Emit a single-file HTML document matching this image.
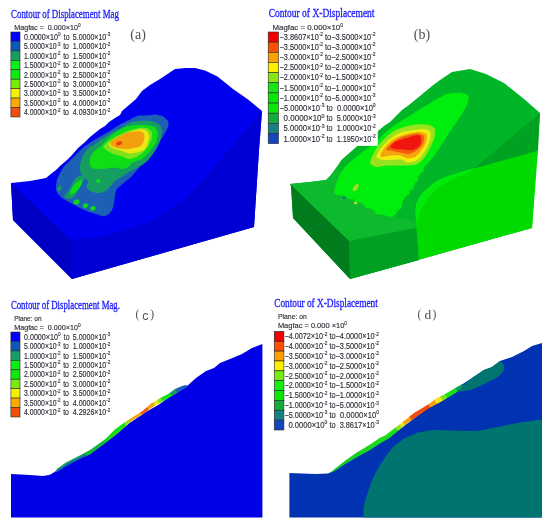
<!DOCTYPE html>
<html><head><meta charset="utf-8"><title>Contour plots</title>
<style>html,body{margin:0;padding:0;background:#fff;}svg{display:block;}</style>
</head><body>
<svg width="550" height="527" viewBox="0 0 550 527">
<rect width="550" height="527" fill="#fff"/>
<defs><filter id="soft" x="-2%" y="-2%" width="104%" height="104%"><feGaussianBlur stdDeviation="0.35"/></filter></defs>
<g filter="url(#soft)">
<path d="M11,183 L30,181 L46,178 L52,173 L56,170 L60,166 L67,160 L72,155 L78,148 L84,143 L90,137 L95,133 L100,129 L105,126 L109,122 L115,118 L120,115 L122,111 L129,105 L136,99 L142,91 L150,85 L160,79 L166,75 L175,69 L185,68 L195,68 L205,70.5 L217.5,76.6 L233,89 L248.4,99.8 L262,111 L259,150 L254,227 L72,279 L13,220 Z" fill="rgb(4,6,240)"/>
<path d="M71,240 L100,236 L120,232 L150,222 L184,200 L210,172 L235,142 L262,111 L259,150 L254,227 L72,279 Z" fill="rgb(0,0,212)"/>
<path d="M11,183 L71,240 L72,279 L13,220 Z" fill="rgb(0,0,196)"/>
<path d="M128,120.5 C130.4,119.3 135.2,116.4 137.7,115.7 C140.2,115 144.6,115.7 147,115.5 C149.4,115.3 153.5,114.3 155.6,114.4 C157.7,114.5 160.9,115.5 162.5,116.3 C164.1,117.1 166.8,119.3 167.6,120.5 C168.4,121.7 168.5,123.7 168.4,125 C168.3,126.3 167.4,128.6 166.7,130 C166,131.4 164.3,134.1 163.3,135.7 C162.3,137.3 160,140.1 159,141.7 C158,143.3 156.8,146 155.6,147.5 C154.4,149 151.4,151.5 150,153 C148.6,154.5 146.3,157.3 145,159 C143.7,160.7 142.3,163.5 140.5,165.8 C138.7,168.1 133.8,174 131.4,176.4 C129,178.8 124.3,182.2 122.3,184 C120.3,185.8 117.2,188.2 116.2,190 C115.2,191.8 115.1,195.5 114.7,197.7 C114.3,199.9 113.8,204.8 113.2,206.8 C112.6,208.8 111.4,211.5 110.2,212.8 C109,214.1 105.9,216.1 104,216.3 C102.1,216.5 98.1,214.6 96,214 C93.9,213.4 90.1,212.3 88,211.5 C85.9,210.7 82.3,209.1 80,208 C77.7,206.9 73.4,204.3 71,203 C68.6,201.7 63.9,199.6 62,198 C60.1,196.4 57.2,193.4 56.5,191 C55.8,188.6 56,183.2 57,180 C58,176.8 61.6,169.9 63.7,167 C65.8,164.1 70.1,160.7 72.8,158 C75.5,155.3 80.9,149.5 84,147 C87.1,144.5 92.7,141.1 96,139 C99.3,136.9 105.8,133.4 109,131.5 C112.2,129.6 117.5,126 120,124.5 C122.5,123 125.6,121.7 128,120.5 Z" fill="rgb(30,96,182)"/>
<path d="M64,196.8 C63.7,195.7 67.7,192.7 69,190.5 C70.3,188.3 72.7,182.2 74,180.3 C75.3,178.4 77.6,176.4 79,176 C80.4,175.6 84.1,175.9 84.5,177 C84.9,178.1 83.1,181.9 82,184 C80.9,186.1 78,191.1 76.6,193 C75.2,194.9 73.2,198 71.5,198.5 C69.8,199 64.3,197.9 64,196.8 Z" fill="rgb(24,158,96)"/>
<path d="M121,128 C123.7,126.6 128.3,123 132,122 C135.7,121 145.6,120.5 149,120.7 C152.4,120.9 155.9,122.4 157.6,123.5 C159.3,124.6 161.4,127.3 161.9,129.2 C162.4,131.1 162,135.1 161.2,137.7 C160.4,140.3 158,146 156.2,149 C154.4,152 150.2,158 147.7,160.5 C145.2,163 140.2,166.1 137.7,167.6 C135.2,169.1 131,170.8 129,172 C127,173.2 124.2,175.4 122.5,176.5 C120.8,177.6 117.5,179.1 116,180.3 C114.5,181.5 112.3,184 111,185.4 C109.7,186.8 107.5,189.5 106,190.5 C104.5,191.5 101.4,192.8 99.5,193 C97.6,193.2 93.7,192.4 92,191.7 C90.3,191 87.3,189.4 86.8,188 C86.3,186.6 88.3,182.9 88,181.5 C87.7,180.1 85.3,178.9 84.3,177.7 C83.3,176.5 81.1,174.3 80.5,172.6 C79.9,170.9 79.7,167.2 80,165 C80.3,162.8 81.9,158.1 83,156 C84.1,153.9 86.4,150.6 88,149 C89.6,147.4 92.9,145.5 95,144 C97.1,142.5 101.2,139.5 103.5,138 C105.8,136.5 109.7,133.8 112,132.5 C114.3,131.2 118.3,129.4 121,128 Z" fill="rgb(24,158,96)"/>
<ellipse cx="59.5" cy="188.5" rx="3" ry="1.7" transform="rotate(-55 59.5 188.5)" fill="rgb(24,158,96)"/>
<ellipse cx="76.6" cy="201.9" rx="3.6" ry="2.8" transform="rotate(-20 76.6 201.9)" fill="rgb(24,158,96)"/>
<ellipse cx="85.5" cy="205.7" rx="3.2" ry="2.5" transform="rotate(-20 85.5 205.7)" fill="rgb(24,158,96)"/>
<ellipse cx="93" cy="208.3" rx="3.2" ry="2.5" transform="rotate(-15 93 208.3)" fill="rgb(24,158,96)"/>
<ellipse cx="98.3" cy="181" rx="3" ry="2.8" transform="rotate(0 98.3 181)" fill="rgb(24,158,96)"/>
<path d="M116.3,132 C119,130.4 124.3,127.2 127.7,126.3 C131.1,125.4 138.6,125 142,125 C145.4,125 151.2,125.4 153.3,126.3 C155.4,127.2 157.2,129.9 157.6,132 C158,134.1 157.1,139.5 156.2,142 C155.3,144.5 152.4,148.2 150.5,150.5 C148.6,152.8 144.4,157.4 142,159 C139.6,160.6 134.1,161.6 132.2,162.7 C130.3,163.8 129.4,166.1 128,166.9 C126.6,167.7 123.6,168.9 121.8,169 C120,169.1 116.5,167.5 114.4,167.4 C112.3,167.3 108.5,168.3 106,168.5 C103.5,168.7 97.8,169.3 95.7,169 C93.6,168.7 91.1,167.4 90.4,165.9 C89.7,164.4 89.8,159.4 90.4,157.5 C91,155.6 93.2,152.8 94.6,151.3 C96,149.8 99.1,148 100.9,146.3 C102.7,144.6 105.7,140.4 107.8,138.5 C109.9,136.6 113.6,133.6 116.3,132 Z" fill="rgb(16,222,24)"/>
<ellipse cx="76" cy="187.3" rx="9" ry="2.9" transform="rotate(-51 76 187.3)" fill="rgb(16,222,24)"/>
<ellipse cx="98.3" cy="181" rx="2.2" ry="1.9" transform="rotate(0 98.3 181)" fill="rgb(16,222,24)"/>
<ellipse cx="76.6" cy="201.9" rx="2.6" ry="2" transform="rotate(-20 76.6 201.9)" fill="rgb(16,222,24)"/>
<ellipse cx="85.5" cy="205.7" rx="2.2" ry="1.8" transform="rotate(-20 85.5 205.7)" fill="rgb(16,222,24)"/>
<ellipse cx="93" cy="208.3" rx="2.2" ry="1.8" transform="rotate(-15 93 208.3)" fill="rgb(16,222,24)"/>
<path d="M107.8,142 C109.5,140.7 113.3,137.9 116.3,136.3 C119.3,134.7 127.2,131 130.6,129.9 C134,128.8 139.5,127.9 142,127.8 C144.5,127.7 147.7,128.4 149,129.2 C150.3,130 151.8,131.8 152,133.5 C152.2,135.2 151.5,139.7 150.5,142 C149.5,144.3 146.5,148.6 144.8,150.5 C143.1,152.4 139.8,155.1 137.7,156.2 C135.6,157.3 131.3,159 129.2,159 C127.1,159 124.3,156.9 122,156.2 C119.7,155.5 114.3,154.4 112,153.4 C109.7,152.4 106.1,149.9 105,149 C103.9,148.1 103.1,147.2 103.5,146.3 C103.9,145.4 106.1,143.3 107.8,142 Z" fill="rgb(128,226,30)"/>
<path d="M109.2,143.4 C110,142.1 114.8,139.3 117.8,137.7 C120.8,136.1 129,132.4 132,131.3 C135,130.2 138.6,129.3 140.5,129.2 C142.4,129.1 145.1,129.7 146.2,130.6 C147.3,131.5 149,134 149,136.3 C149,138.6 147.5,145.6 146.2,147.7 C144.9,149.8 141.3,151.2 139,152 C136.7,152.8 131.7,153.6 129.2,153.4 C126.7,153.2 122.9,151.3 120.6,150.5 C118.3,149.7 113.5,148.6 112,147.7 C110.5,146.8 108.4,144.7 109.2,143.4 Z" fill="rgb(236,232,20)"/>
<path d="M110.6,142 C111.3,140.9 114.4,138.8 116.3,137.7 C118.2,136.6 122.8,134.3 124.9,133.5 C127,132.7 129.9,132.3 132,132 C134.1,131.7 138.9,131.1 140.5,131.3 C142.1,131.5 143.5,132.3 144,133.5 C144.5,134.7 144.5,138.9 144,140.6 C143.5,142.3 141.7,145.4 140.5,146.3 C139.3,147.2 136.3,147.3 134.8,147.7 C133.3,148.1 130.7,148.8 129.2,149 C127.7,149.2 125.2,149.2 123.5,149 C121.8,148.8 117.9,148.2 116.3,147.7 C114.7,147.2 112.2,146.4 111.4,145.6 C110.6,144.8 109.9,143.1 110.6,142 Z" fill="rgb(242,160,16)"/>
<ellipse cx="119.2" cy="143.4" rx="3.2" ry="1.9" transform="rotate(-20 119.2 143.4)" fill="rgb(240,64,16)"/>
<path d="M290,184 L310,182 L326,180 L331,175 L336.8,167 L341.4,160 L350.5,152 L357.3,145.9 L364,140 L372,135 L378,131 L384,126 L390,122 L395,117 L402,110 L409,105 L415,100 L420,96 L426,91 L432,86 L440,80 L452,72 L470,69 L486,74 L504,83 L524,99 L540,113 L537,150 L532,228 L350,279 L293,218 L291,186 Z" fill="rgb(4,182,38)"/>
<path d="M290,184 L310,182 L326,180 L331,175 L336.8,167 L380,214 L419,222 L419,260 L350,279 L349,241 Z" fill="rgb(10,186,46)"/>
<path d="M349,241 L384.5,234 L416.5,228 L419,260 L350,279 Z" fill="rgb(2,160,34)"/>
<path d="M290,184 L349,241 L350,279 L293,218 L291,186 Z" fill="rgb(2,124,26)"/>
<path d="M418.7,259.7 C418.6,257.7 418.3,249.1 418,245 C417.7,240.9 416.8,233 416.5,229 C416.2,225 415.6,218.2 415.5,215 C415.4,211.8 415.5,207.3 416,205 C416.5,202.7 418.2,199.5 419,198 C419.8,196.5 420.5,195.1 422,193.5 C423.5,191.9 427.9,187.7 430,186 C432.1,184.3 436.2,181.6 438,180.5 C439.8,179.4 441,178.7 443.6,177.7 C446.2,176.7 453.7,174.3 457.8,173 C461.9,171.7 472.2,168.9 474.4,168.3 L538,150.5 L532,228 Z" fill="rgb(0,218,0)"/>
<path d="M415.5,215 C415.4,213.1 415.6,206.7 416,205 C416.4,203.3 418.4,199.2 419,198 C419.6,196.8 420.9,194.7 422,193.5 C423.1,192.3 428.4,187.3 430,186 C431.6,184.7 436.6,181.3 438,180.5 C439.4,179.7 441.6,178.4 443.6,177.7 C445.6,176.9 454.7,173.9 457.8,173 C460.9,172.1 473.4,168.4 474.4,168.3 C475.4,168.2 469.9,171.5 468,172.5 C466.1,173.5 457.6,176.8 455,178 C452.4,179.2 444.3,183.5 442,185 C439.7,186.5 433.7,191.3 432,193 C430.3,194.7 426.2,200.1 425,202 C423.8,203.9 420.8,209.8 420,212 C419.2,214.2 417.9,223.7 417.5,224 C417.1,224.3 415.6,216.9 415.5,215 Z" fill="rgb(6,236,14)" opacity="0.9"/>
<path d="M474.4,168.3 L540,113 L538,150.5 Z" fill="rgb(2,162,32)"/>
<path d="M334,192 L336,184 L340,174 L344,168 L350,162 L356,157 L362,152 L368,148 L374,143 L379,139 L386,132 L393.5,126 L400,121.5 L407.7,117 L413,113.5 L419,110 L424,106.5 L429,104 L435,100 L440,97.5 L446,94 L453,93 L460,92.5 L466,94 L469,97 L468,102 L466,107 L463,112 L458,120 L451,130 L445,139 L440,147 L434,156 L428,163 L424,167 L423.4,171.3 L420,174 L418.1,176.8 L418.4,180.7 L415.1,182.8 L414,186 L413.2,189.5 L409.6,190.7 L409.2,194.5 L406,196 L403.6,199.8 L402,204 L401.4,208.2 L397.6,210.4 L396,214 L392.5,216.8 L388,216.5 L384.1,215 L380,214.5 L375.8,213.9 L373.6,210.1 L370,208.5 L365.8,207.9 L363.6,204.1 L360,202.5 L355.9,202.5 L353.2,199.1 L348.9,199.5 L346,196.5 L342.1,194.9 L337.6,195.7 L334,193 Z" fill="rgb(4,238,12)"/>
<path d="M370.7,159.8 C371.5,157.7 374.7,151.1 376.4,148.4 C378.1,145.7 381.2,142.1 383.5,139.8 C385.8,137.5 390.5,133.1 393.5,131.3 C396.5,129.5 402.9,127.2 406.3,126.3 C409.7,125.4 416,124.4 419,124.2 C422,124 426.9,124.3 429,124.9 C431.1,125.5 433.9,126.9 434.7,128.5 C435.5,130.1 435.3,134.5 434.7,137 C434.1,139.5 431.8,144.3 430.5,147 C429.2,149.7 426.5,154.7 424.8,157 C423.1,159.3 420,162.9 417.7,164 C415.4,165.1 410.2,165.3 407.7,165.5 C405.2,165.7 401.7,165.5 399,165.5 C396.3,165.5 390.8,165.3 387.8,165.5 C384.8,165.7 378.7,167.1 376.4,166.9 C374.1,166.7 371.5,164.9 370.7,164 C369.9,163.1 369.9,161.9 370.7,159.8 Z" fill="rgb(150,226,30)"/>
<path d="M376.4,157 C376.2,155.3 380.1,149.5 382,147 C383.9,144.5 387.9,140.4 390.6,138.4 C393.3,136.4 398.8,133.1 402,132 C405.2,130.9 411.6,130.3 414.8,129.9 C418,129.5 424.1,128.8 426.2,129.2 C428.3,129.6 430,131.1 430.5,132.7 C431,134.3 430.5,138.8 429.7,141.3 C428.9,143.8 426.4,148.7 424.8,151.2 C423.2,153.7 420,158.3 417.7,159.8 C415.4,161.3 409.8,162.6 407.7,162.6 C405.6,162.6 403.9,160.2 402,159.8 C400.1,159.4 396,159.8 393.5,159.8 C391,159.8 385.8,160.2 383.5,159.8 C381.2,159.4 376.6,158.7 376.4,157 Z" fill="rgb(240,236,16)"/>
<path d="M380.7,154 C381.3,152.5 384.4,147.6 386.3,145.5 C388.2,143.4 392.2,139.9 394.9,138.4 C397.6,136.9 403.1,135.1 406.3,134.2 C409.5,133.3 416.3,132 419,132 C421.7,132 425.2,133 426.2,134.2 C427.2,135.4 426.8,139.2 426.2,141.3 C425.6,143.4 423.4,147.7 421.9,149.8 C420.4,151.9 416.9,155.9 414.8,157 C412.7,158.1 408.2,158.5 406.3,158.3 C404.4,158.1 402.7,155.9 400.6,155.5 C398.5,155.1 393.1,155.3 390.6,155.5 C388.1,155.7 383.3,157.2 382,157 C380.7,156.8 380.1,155.5 380.7,154 Z" fill="rgb(246,164,8)"/>
<path d="M386.3,149.8 C386.1,148.7 389.9,144.4 392,142.7 C394.1,141 398.8,138.2 402,137 C405.2,135.8 413.4,133.6 416.2,133.4 C419,133.2 422.4,134.4 423.3,135.6 C424.2,136.8 424,140.8 423.3,142.7 C422.6,144.6 419.6,148.3 417.7,149.8 C415.8,151.3 411.1,153.6 409,154 C406.9,154.4 404.1,153.1 402,152.7 C399.9,152.3 395.6,151.6 393.5,151.2 C391.4,150.8 386.5,150.9 386.3,149.8 Z" fill="rgb(242,90,14)"/>
<path d="M390.6,147 C390.6,146 394,142.5 396.3,141.3 C398.6,140.1 404.8,138.6 407.7,137.7 C410.6,136.8 415.9,134.8 417.7,134.9 C419.5,135 420.9,137 421.2,138.4 C421.5,139.8 420.8,144 419.8,145.5 C418.8,147 415.4,149.2 413.4,149.8 C411.4,150.4 407.1,149.9 404.8,149.8 C402.5,149.7 398.2,149.5 396.3,149.1 C394.4,148.7 390.6,148 390.6,147 Z" fill="rgb(240,20,16)"/>
<ellipse cx="355.7" cy="187.6" rx="4.2" ry="2" transform="rotate(-55 355.7 187.6)" fill="rgb(170,220,30)"/>
<ellipse cx="355.6" cy="203" rx="1.6" ry="1.2" fill="rgb(200,220,30)"/>
<circle cx="344" cy="198" r="1" fill="rgb(20,60,200)"/>
<rect x="262" y="0" width="115.8" height="145.9" fill="#fff"/>
<path d="M11,474 L30,475 L43,476 L50,474.7 L54.5,472 L58,469.5 L66,464.5 L76,458.5 L90,452.5 L106,442 L114.8,435.5 L129.5,423 L146,412 L159,404.5 L170.5,396.3 L178.7,391.4 L186,387 L196,378 L206,371 L214,368 L220,363 L230,359 L242,354 L252,348 L262.4,344 L262.4,517.6 L11,517.6 Z" fill="rgb(2,0,230)"/>
<linearGradient id="gc" gradientUnits="userSpaceOnUse" x1="56" y1="471" x2="188" y2="385"><stop offset="0.0000" stop-color="rgb(30,96,182)"/><stop offset="0.2121" stop-color="rgb(30,96,182)"/><stop offset="0.2121" stop-color="rgb(24,176,64)"/><stop offset="0.3333" stop-color="rgb(24,186,56)"/><stop offset="0.4091" stop-color="rgb(20,222,24)"/><stop offset="0.5303" stop-color="rgb(20,224,24)"/><stop offset="0.5303" stop-color="rgb(150,226,30)"/><stop offset="0.5606" stop-color="rgb(150,226,30)"/><stop offset="0.5606" stop-color="rgb(244,164,12)"/><stop offset="0.6515" stop-color="rgb(244,164,12)"/><stop offset="0.6515" stop-color="rgb(242,84,14)"/><stop offset="0.7045" stop-color="rgb(242,84,14)"/><stop offset="0.7045" stop-color="rgb(244,164,12)"/><stop offset="0.7530" stop-color="rgb(244,164,12)"/><stop offset="0.7530" stop-color="rgb(236,232,20)"/><stop offset="0.7856" stop-color="rgb(236,232,20)"/><stop offset="0.7856" stop-color="rgb(128,226,30)"/><stop offset="0.8106" stop-color="rgb(128,226,30)"/><stop offset="0.8106" stop-color="rgb(20,224,24)"/><stop offset="0.8765" stop-color="rgb(20,224,24)"/><stop offset="0.8765" stop-color="rgb(24,158,96)"/><stop offset="0.9167" stop-color="rgb(24,158,96)"/><stop offset="0.9167" stop-color="rgb(30,96,182)"/><stop offset="1.0000" stop-color="rgb(30,96,182)"/></linearGradient>
<path d="M56,470.5 L58,468.5 L66,462.5 L80,455.5 L90,450 L106,438.5 L115,429.2 L125.9,421.5 L132.5,417.2 L142.3,411.2 L151,403.5 L155.4,400.9 L162,397 L168.5,393.8 L175,389 L182,386 L186.5,384.8 L187,386.5 L185.2,388 L175,394.3 L166.3,399.2 L158.6,404 L153.2,406.8 L142.3,414.5 L131.4,421 L121.5,430 L114.8,435.5 L106,442.5 L90,454.5 L76,461 L66,466.5 L56,472.5 Z" fill="url(#gc)"/>
<path d="M57,469.6 L66,463.4 L80,456.4 L90,451" fill="none" stroke="rgb(24,180,64)" stroke-width="1.2"/>
<path d="M289.4,473 L316,474 L328,473.6 L334,470.5 L346,461.5 L356,455 L370,448 L390,436 L400,429 L412,420 L432,404 L440,398.5 L452,391 L462,384.5 L472,378 L484,370 L492,367 L500,361 L512,357 L524,351 L532,346 L542,343 L542,517.4 L289.4,517.4 Z" fill="rgb(0,50,178)"/>
<path d="M363,517.4 L364,505 L367,495 L371,483 L375,474 L380,465 L386,456 L393,447 L404,438.5 L418,432.5 L432,430 L450,430.5 L470,431 L480,430.5 L500,426.5 L520,422.5 L542,419.5 L542,517.4 Z" fill="rgb(0,116,112)"/>
<path d="M456,391.5 C456.4,390.8 462.4,385.9 464,384.5 C465.6,383.1 470,379.4 472,378 C474,376.6 482,371.1 484,370 C486,368.9 490.4,367.9 492,367 C493.6,366.1 498.8,361.3 500,361.2 C501.2,361.1 503.7,364.9 504,366 C504.3,367.1 503.8,370.8 503,372 C502.2,373.2 498.3,376.6 496,378 C493.7,379.4 482.6,384.8 480,386 C477.4,387.2 472,389.4 470,390 C468,390.6 461.4,391.4 460,391.5 C458.6,391.6 455.6,392.2 456,391.5 Z" fill="rgb(0,116,112)"/>
<linearGradient id="gd" gradientUnits="userSpaceOnUse" x1="330" y1="473" x2="464" y2="384"><stop offset="0.0000" stop-color="rgb(24,196,44)"/><stop offset="0.4970" stop-color="rgb(30,226,24)"/><stop offset="0.4970" stop-color="rgb(150,226,30)"/><stop offset="0.5299" stop-color="rgb(150,226,30)"/><stop offset="0.5299" stop-color="rgb(236,232,20)"/><stop offset="0.5522" stop-color="rgb(236,232,20)"/><stop offset="0.5522" stop-color="rgb(246,164,8)"/><stop offset="0.6045" stop-color="rgb(246,164,8)"/><stop offset="0.6045" stop-color="rgb(242,76,14)"/><stop offset="0.7463" stop-color="rgb(242,76,14)"/><stop offset="0.7463" stop-color="rgb(246,164,8)"/><stop offset="0.7910" stop-color="rgb(246,164,8)"/><stop offset="0.7910" stop-color="rgb(236,232,20)"/><stop offset="0.8336" stop-color="rgb(236,232,20)"/><stop offset="0.8336" stop-color="rgb(128,226,30)"/><stop offset="0.8657" stop-color="rgb(128,226,30)"/><stop offset="0.8657" stop-color="rgb(20,224,24)"/><stop offset="0.9403" stop-color="rgb(20,224,24)"/><stop offset="0.9403" stop-color="rgb(24,158,96)"/><stop offset="1.0000" stop-color="rgb(24,158,96)"/></linearGradient>
<path d="M330,473 L334,469.6 L346,460 L356,453 L370,444.5 L380,437.8 L385,435.5 L399.5,424.5 L414,413 L428.6,404.2 L436,398.6 L446,393.4 L454.8,388.3 L462,384 L463,385.5 L456.3,392.4 L443.2,400.4 L428.6,408.4 L406.8,423.6 L389.4,438 L380,443.5 L370,450 L360,455.5 L346,463.5 L334,471.5 Z" fill="url(#gd)"/>
</g>
<text x="11.1" y="18.1" font-family="Liberation Serif, serif" font-size="12" fill="rgb(34,34,250)" stroke="rgb(34,34,250)" stroke-width="0.32" textLength="107.8" lengthAdjust="spacingAndGlyphs">Contour of Displacement Mag</text>
<text x="14.2" y="29.5" font-family="Liberation Sans, sans-serif" font-size="7.6" fill="rgb(45,45,55)" stroke="rgb(45,45,55)" stroke-width="0.15" textLength="66.4" lengthAdjust="spacingAndGlyphs">Magfac = &#160;0.000×10<tspan dy="-3" font-size="5">0</tspan></text>
<rect x="10.9" y="32.00" width="9.1" height="9.44" fill="rgb(0,0,255)" stroke="rgb(40,40,40)" stroke-width="0.6"/>
<text x="24" y="39.8" font-family="Liberation Sans, sans-serif" font-size="8.8" fill="rgb(45,45,55)" stroke="rgb(45,45,55)" stroke-width="0.15" textLength="36.5" lengthAdjust="spacingAndGlyphs">0.0000×10<tspan dy="-3.6" font-size="5.8">0</tspan><tspan dy="3.6">​</tspan></text>
<text x="63.8" y="39.8" font-family="Liberation Sans, sans-serif" font-size="8.8" fill="rgb(45,45,55)" stroke="rgb(45,45,55)" stroke-width="0.15" textLength="5.8" lengthAdjust="spacingAndGlyphs">to</text>
<text x="72.8" y="39.8" font-family="Liberation Sans, sans-serif" font-size="8.8" fill="rgb(45,45,55)" stroke="rgb(45,45,55)" stroke-width="0.15" textLength="37.6" lengthAdjust="spacingAndGlyphs">5.0000×10<tspan dy="-3.6" font-size="5.8">-3</tspan><tspan dy="3.6">​</tspan></text>
<rect x="10.9" y="41.44" width="9.1" height="9.44" fill="rgb(10,90,190)" stroke="rgb(40,40,40)" stroke-width="0.6"/>
<text x="24" y="49.239999999999995" font-family="Liberation Sans, sans-serif" font-size="8.8" fill="rgb(45,45,55)" stroke="rgb(45,45,55)" stroke-width="0.15" textLength="36.5" lengthAdjust="spacingAndGlyphs">5.0000×10<tspan dy="-3.6" font-size="5.8">-3</tspan><tspan dy="3.6">​</tspan></text>
<text x="63.2" y="49.239999999999995" font-family="Liberation Sans, sans-serif" font-size="8.8" fill="rgb(45,45,55)" stroke="rgb(45,45,55)" stroke-width="0.15" textLength="5.8" lengthAdjust="spacingAndGlyphs">to</text>
<text x="72.8" y="49.239999999999995" font-family="Liberation Sans, sans-serif" font-size="8.8" fill="rgb(45,45,55)" stroke="rgb(45,45,55)" stroke-width="0.15" textLength="37.6" lengthAdjust="spacingAndGlyphs">1.0000×10<tspan dy="-3.6" font-size="5.8">-2</tspan><tspan dy="3.6">​</tspan></text>
<rect x="10.9" y="50.88" width="9.1" height="9.44" fill="rgb(20,160,100)" stroke="rgb(40,40,40)" stroke-width="0.6"/>
<text x="24" y="58.67999999999999" font-family="Liberation Sans, sans-serif" font-size="8.8" fill="rgb(45,45,55)" stroke="rgb(45,45,55)" stroke-width="0.15" textLength="36.5" lengthAdjust="spacingAndGlyphs">1.0000×10<tspan dy="-3.6" font-size="5.8">-2</tspan><tspan dy="3.6">​</tspan></text>
<text x="63.2" y="58.67999999999999" font-family="Liberation Sans, sans-serif" font-size="8.8" fill="rgb(45,45,55)" stroke="rgb(45,45,55)" stroke-width="0.15" textLength="5.8" lengthAdjust="spacingAndGlyphs">to</text>
<text x="72.8" y="58.67999999999999" font-family="Liberation Sans, sans-serif" font-size="8.8" fill="rgb(45,45,55)" stroke="rgb(45,45,55)" stroke-width="0.15" textLength="37.6" lengthAdjust="spacingAndGlyphs">1.5000×10<tspan dy="-3.6" font-size="5.8">-2</tspan><tspan dy="3.6">​</tspan></text>
<rect x="10.9" y="60.32" width="9.1" height="9.44" fill="rgb(10,240,20)" stroke="rgb(40,40,40)" stroke-width="0.6"/>
<text x="24" y="68.12" font-family="Liberation Sans, sans-serif" font-size="8.8" fill="rgb(45,45,55)" stroke="rgb(45,45,55)" stroke-width="0.15" textLength="36.5" lengthAdjust="spacingAndGlyphs">1.5000×10<tspan dy="-3.6" font-size="5.8">-2</tspan><tspan dy="3.6">​</tspan></text>
<text x="63.2" y="68.12" font-family="Liberation Sans, sans-serif" font-size="8.8" fill="rgb(45,45,55)" stroke="rgb(45,45,55)" stroke-width="0.15" textLength="5.8" lengthAdjust="spacingAndGlyphs">to</text>
<text x="72.8" y="68.12" font-family="Liberation Sans, sans-serif" font-size="8.8" fill="rgb(45,45,55)" stroke="rgb(45,45,55)" stroke-width="0.15" textLength="37.6" lengthAdjust="spacingAndGlyphs">2.0000×10<tspan dy="-3.6" font-size="5.8">-2</tspan><tspan dy="3.6">​</tspan></text>
<rect x="10.9" y="69.76" width="9.1" height="9.44" fill="rgb(10,236,10)" stroke="rgb(40,40,40)" stroke-width="0.6"/>
<text x="24" y="77.56" font-family="Liberation Sans, sans-serif" font-size="8.8" fill="rgb(45,45,55)" stroke="rgb(45,45,55)" stroke-width="0.15" textLength="36.5" lengthAdjust="spacingAndGlyphs">2.0000×10<tspan dy="-3.6" font-size="5.8">-2</tspan><tspan dy="3.6">​</tspan></text>
<text x="63.2" y="77.56" font-family="Liberation Sans, sans-serif" font-size="8.8" fill="rgb(45,45,55)" stroke="rgb(45,45,55)" stroke-width="0.15" textLength="5.8" lengthAdjust="spacingAndGlyphs">to</text>
<text x="72.8" y="77.56" font-family="Liberation Sans, sans-serif" font-size="8.8" fill="rgb(45,45,55)" stroke="rgb(45,45,55)" stroke-width="0.15" textLength="37.6" lengthAdjust="spacingAndGlyphs">2.5000×10<tspan dy="-3.6" font-size="5.8">-2</tspan><tspan dy="3.6">​</tspan></text>
<rect x="10.9" y="79.20" width="9.1" height="9.44" fill="rgb(120,236,10)" stroke="rgb(40,40,40)" stroke-width="0.6"/>
<text x="24" y="87.0" font-family="Liberation Sans, sans-serif" font-size="8.8" fill="rgb(45,45,55)" stroke="rgb(45,45,55)" stroke-width="0.15" textLength="36.5" lengthAdjust="spacingAndGlyphs">2.5000×10<tspan dy="-3.6" font-size="5.8">-2</tspan><tspan dy="3.6">​</tspan></text>
<text x="63.2" y="87.0" font-family="Liberation Sans, sans-serif" font-size="8.8" fill="rgb(45,45,55)" stroke="rgb(45,45,55)" stroke-width="0.15" textLength="5.8" lengthAdjust="spacingAndGlyphs">to</text>
<text x="72.8" y="87.0" font-family="Liberation Sans, sans-serif" font-size="8.8" fill="rgb(45,45,55)" stroke="rgb(45,45,55)" stroke-width="0.15" textLength="37.6" lengthAdjust="spacingAndGlyphs">3.0000×10<tspan dy="-3.6" font-size="5.8">-2</tspan><tspan dy="3.6">​</tspan></text>
<rect x="10.9" y="88.64" width="9.1" height="9.44" fill="rgb(246,240,0)" stroke="rgb(40,40,40)" stroke-width="0.6"/>
<text x="24" y="96.44" font-family="Liberation Sans, sans-serif" font-size="8.8" fill="rgb(45,45,55)" stroke="rgb(45,45,55)" stroke-width="0.15" textLength="36.5" lengthAdjust="spacingAndGlyphs">3.0000×10<tspan dy="-3.6" font-size="5.8">-2</tspan><tspan dy="3.6">​</tspan></text>
<text x="63.2" y="96.44" font-family="Liberation Sans, sans-serif" font-size="8.8" fill="rgb(45,45,55)" stroke="rgb(45,45,55)" stroke-width="0.15" textLength="5.8" lengthAdjust="spacingAndGlyphs">to</text>
<text x="72.8" y="96.44" font-family="Liberation Sans, sans-serif" font-size="8.8" fill="rgb(45,45,55)" stroke="rgb(45,45,55)" stroke-width="0.15" textLength="37.6" lengthAdjust="spacingAndGlyphs">3.5000×10<tspan dy="-3.6" font-size="5.8">-2</tspan><tspan dy="3.6">​</tspan></text>
<rect x="10.9" y="98.08" width="9.1" height="9.44" fill="rgb(250,170,0)" stroke="rgb(40,40,40)" stroke-width="0.6"/>
<text x="24" y="105.88" font-family="Liberation Sans, sans-serif" font-size="8.8" fill="rgb(45,45,55)" stroke="rgb(45,45,55)" stroke-width="0.15" textLength="36.5" lengthAdjust="spacingAndGlyphs">3.5000×10<tspan dy="-3.6" font-size="5.8">-2</tspan><tspan dy="3.6">​</tspan></text>
<text x="63.2" y="105.88" font-family="Liberation Sans, sans-serif" font-size="8.8" fill="rgb(45,45,55)" stroke="rgb(45,45,55)" stroke-width="0.15" textLength="5.8" lengthAdjust="spacingAndGlyphs">to</text>
<text x="72.8" y="105.88" font-family="Liberation Sans, sans-serif" font-size="8.8" fill="rgb(45,45,55)" stroke="rgb(45,45,55)" stroke-width="0.15" textLength="37.6" lengthAdjust="spacingAndGlyphs">4.0000×10<tspan dy="-3.6" font-size="5.8">-2</tspan><tspan dy="3.6">​</tspan></text>
<rect x="10.9" y="107.52" width="9.1" height="9.44" fill="rgb(240,80,10)" stroke="rgb(40,40,40)" stroke-width="0.6"/>
<text x="24" y="115.32" font-family="Liberation Sans, sans-serif" font-size="8.8" fill="rgb(45,45,55)" stroke="rgb(45,45,55)" stroke-width="0.15" textLength="36.5" lengthAdjust="spacingAndGlyphs">4.0000×10<tspan dy="-3.6" font-size="5.8">-2</tspan><tspan dy="3.6">​</tspan></text>
<text x="63.2" y="115.32" font-family="Liberation Sans, sans-serif" font-size="8.8" fill="rgb(45,45,55)" stroke="rgb(45,45,55)" stroke-width="0.15" textLength="5.8" lengthAdjust="spacingAndGlyphs">to</text>
<text x="72.8" y="115.32" font-family="Liberation Sans, sans-serif" font-size="8.8" fill="rgb(45,45,55)" stroke="rgb(45,45,55)" stroke-width="0.15" textLength="37.6" lengthAdjust="spacingAndGlyphs">4.0930×10<tspan dy="-3.6" font-size="5.8">-2</tspan><tspan dy="3.6">​</tspan></text>
<text x="10.9" y="309" font-family="Liberation Serif, serif" font-size="12" fill="rgb(34,34,250)" stroke="rgb(34,34,250)" stroke-width="0.32" textLength="109" lengthAdjust="spacingAndGlyphs">Contour of Displacement Mag.</text>
<text x="14.2" y="320.5" font-family="Liberation Sans, sans-serif" font-size="7.4" fill="rgb(45,45,55)" stroke="rgb(45,45,55)" stroke-width="0.15" textLength="27.3" lengthAdjust="spacingAndGlyphs">Plane: on</text>
<text x="14.2" y="329.7" font-family="Liberation Sans, sans-serif" font-size="7.6" fill="rgb(45,45,55)" stroke="rgb(45,45,55)" stroke-width="0.15" textLength="66.4" lengthAdjust="spacingAndGlyphs">Magfac = &#160;0.000×10<tspan dy="-3" font-size="5">0</tspan></text>
<rect x="10.9" y="332.00" width="9.1" height="9.44" fill="rgb(0,0,255)" stroke="rgb(40,40,40)" stroke-width="0.6"/>
<text x="24" y="339.7" font-family="Liberation Sans, sans-serif" font-size="8.8" fill="rgb(45,45,55)" stroke="rgb(45,45,55)" stroke-width="0.15" textLength="36.5" lengthAdjust="spacingAndGlyphs">0.0000×10<tspan dy="-3.6" font-size="5.8">0</tspan><tspan dy="3.6">​</tspan></text>
<text x="63.8" y="339.7" font-family="Liberation Sans, sans-serif" font-size="8.8" fill="rgb(45,45,55)" stroke="rgb(45,45,55)" stroke-width="0.15" textLength="5.8" lengthAdjust="spacingAndGlyphs">to</text>
<text x="72.8" y="339.7" font-family="Liberation Sans, sans-serif" font-size="8.8" fill="rgb(45,45,55)" stroke="rgb(45,45,55)" stroke-width="0.15" textLength="37.6" lengthAdjust="spacingAndGlyphs">5.0000×10<tspan dy="-3.6" font-size="5.8">-3</tspan><tspan dy="3.6">​</tspan></text>
<rect x="10.9" y="341.44" width="9.1" height="9.44" fill="rgb(10,90,190)" stroke="rgb(40,40,40)" stroke-width="0.6"/>
<text x="24" y="349.14" font-family="Liberation Sans, sans-serif" font-size="8.8" fill="rgb(45,45,55)" stroke="rgb(45,45,55)" stroke-width="0.15" textLength="36.5" lengthAdjust="spacingAndGlyphs">5.0000×10<tspan dy="-3.6" font-size="5.8">-3</tspan><tspan dy="3.6">​</tspan></text>
<text x="63.2" y="349.14" font-family="Liberation Sans, sans-serif" font-size="8.8" fill="rgb(45,45,55)" stroke="rgb(45,45,55)" stroke-width="0.15" textLength="5.8" lengthAdjust="spacingAndGlyphs">to</text>
<text x="72.8" y="349.14" font-family="Liberation Sans, sans-serif" font-size="8.8" fill="rgb(45,45,55)" stroke="rgb(45,45,55)" stroke-width="0.15" textLength="37.6" lengthAdjust="spacingAndGlyphs">1.0000×10<tspan dy="-3.6" font-size="5.8">-2</tspan><tspan dy="3.6">​</tspan></text>
<rect x="10.9" y="350.88" width="9.1" height="9.44" fill="rgb(20,160,100)" stroke="rgb(40,40,40)" stroke-width="0.6"/>
<text x="24" y="358.58" font-family="Liberation Sans, sans-serif" font-size="8.8" fill="rgb(45,45,55)" stroke="rgb(45,45,55)" stroke-width="0.15" textLength="36.5" lengthAdjust="spacingAndGlyphs">1.0000×10<tspan dy="-3.6" font-size="5.8">-2</tspan><tspan dy="3.6">​</tspan></text>
<text x="63.2" y="358.58" font-family="Liberation Sans, sans-serif" font-size="8.8" fill="rgb(45,45,55)" stroke="rgb(45,45,55)" stroke-width="0.15" textLength="5.8" lengthAdjust="spacingAndGlyphs">to</text>
<text x="72.8" y="358.58" font-family="Liberation Sans, sans-serif" font-size="8.8" fill="rgb(45,45,55)" stroke="rgb(45,45,55)" stroke-width="0.15" textLength="37.6" lengthAdjust="spacingAndGlyphs">1.5000×10<tspan dy="-3.6" font-size="5.8">-2</tspan><tspan dy="3.6">​</tspan></text>
<rect x="10.9" y="360.32" width="9.1" height="9.44" fill="rgb(10,240,20)" stroke="rgb(40,40,40)" stroke-width="0.6"/>
<text x="24" y="368.02" font-family="Liberation Sans, sans-serif" font-size="8.8" fill="rgb(45,45,55)" stroke="rgb(45,45,55)" stroke-width="0.15" textLength="36.5" lengthAdjust="spacingAndGlyphs">1.5000×10<tspan dy="-3.6" font-size="5.8">-2</tspan><tspan dy="3.6">​</tspan></text>
<text x="63.2" y="368.02" font-family="Liberation Sans, sans-serif" font-size="8.8" fill="rgb(45,45,55)" stroke="rgb(45,45,55)" stroke-width="0.15" textLength="5.8" lengthAdjust="spacingAndGlyphs">to</text>
<text x="72.8" y="368.02" font-family="Liberation Sans, sans-serif" font-size="8.8" fill="rgb(45,45,55)" stroke="rgb(45,45,55)" stroke-width="0.15" textLength="37.6" lengthAdjust="spacingAndGlyphs">2.0000×10<tspan dy="-3.6" font-size="5.8">-2</tspan><tspan dy="3.6">​</tspan></text>
<rect x="10.9" y="369.76" width="9.1" height="9.44" fill="rgb(10,236,10)" stroke="rgb(40,40,40)" stroke-width="0.6"/>
<text x="24" y="377.46" font-family="Liberation Sans, sans-serif" font-size="8.8" fill="rgb(45,45,55)" stroke="rgb(45,45,55)" stroke-width="0.15" textLength="36.5" lengthAdjust="spacingAndGlyphs">2.0000×10<tspan dy="-3.6" font-size="5.8">-2</tspan><tspan dy="3.6">​</tspan></text>
<text x="63.2" y="377.46" font-family="Liberation Sans, sans-serif" font-size="8.8" fill="rgb(45,45,55)" stroke="rgb(45,45,55)" stroke-width="0.15" textLength="5.8" lengthAdjust="spacingAndGlyphs">to</text>
<text x="72.8" y="377.46" font-family="Liberation Sans, sans-serif" font-size="8.8" fill="rgb(45,45,55)" stroke="rgb(45,45,55)" stroke-width="0.15" textLength="37.6" lengthAdjust="spacingAndGlyphs">2.5000×10<tspan dy="-3.6" font-size="5.8">-2</tspan><tspan dy="3.6">​</tspan></text>
<rect x="10.9" y="379.20" width="9.1" height="9.44" fill="rgb(120,236,10)" stroke="rgb(40,40,40)" stroke-width="0.6"/>
<text x="24" y="386.9" font-family="Liberation Sans, sans-serif" font-size="8.8" fill="rgb(45,45,55)" stroke="rgb(45,45,55)" stroke-width="0.15" textLength="36.5" lengthAdjust="spacingAndGlyphs">2.5000×10<tspan dy="-3.6" font-size="5.8">-2</tspan><tspan dy="3.6">​</tspan></text>
<text x="63.2" y="386.9" font-family="Liberation Sans, sans-serif" font-size="8.8" fill="rgb(45,45,55)" stroke="rgb(45,45,55)" stroke-width="0.15" textLength="5.8" lengthAdjust="spacingAndGlyphs">to</text>
<text x="72.8" y="386.9" font-family="Liberation Sans, sans-serif" font-size="8.8" fill="rgb(45,45,55)" stroke="rgb(45,45,55)" stroke-width="0.15" textLength="37.6" lengthAdjust="spacingAndGlyphs">3.0000×10<tspan dy="-3.6" font-size="5.8">-2</tspan><tspan dy="3.6">​</tspan></text>
<rect x="10.9" y="388.64" width="9.1" height="9.44" fill="rgb(246,240,0)" stroke="rgb(40,40,40)" stroke-width="0.6"/>
<text x="24" y="396.34" font-family="Liberation Sans, sans-serif" font-size="8.8" fill="rgb(45,45,55)" stroke="rgb(45,45,55)" stroke-width="0.15" textLength="36.5" lengthAdjust="spacingAndGlyphs">3.0000×10<tspan dy="-3.6" font-size="5.8">-2</tspan><tspan dy="3.6">​</tspan></text>
<text x="63.2" y="396.34" font-family="Liberation Sans, sans-serif" font-size="8.8" fill="rgb(45,45,55)" stroke="rgb(45,45,55)" stroke-width="0.15" textLength="5.8" lengthAdjust="spacingAndGlyphs">to</text>
<text x="72.8" y="396.34" font-family="Liberation Sans, sans-serif" font-size="8.8" fill="rgb(45,45,55)" stroke="rgb(45,45,55)" stroke-width="0.15" textLength="37.6" lengthAdjust="spacingAndGlyphs">3.5000×10<tspan dy="-3.6" font-size="5.8">-2</tspan><tspan dy="3.6">​</tspan></text>
<rect x="10.9" y="398.08" width="9.1" height="9.44" fill="rgb(250,170,0)" stroke="rgb(40,40,40)" stroke-width="0.6"/>
<text x="24" y="405.78" font-family="Liberation Sans, sans-serif" font-size="8.8" fill="rgb(45,45,55)" stroke="rgb(45,45,55)" stroke-width="0.15" textLength="36.5" lengthAdjust="spacingAndGlyphs">3.5000×10<tspan dy="-3.6" font-size="5.8">-2</tspan><tspan dy="3.6">​</tspan></text>
<text x="63.2" y="405.78" font-family="Liberation Sans, sans-serif" font-size="8.8" fill="rgb(45,45,55)" stroke="rgb(45,45,55)" stroke-width="0.15" textLength="5.8" lengthAdjust="spacingAndGlyphs">to</text>
<text x="72.8" y="405.78" font-family="Liberation Sans, sans-serif" font-size="8.8" fill="rgb(45,45,55)" stroke="rgb(45,45,55)" stroke-width="0.15" textLength="37.6" lengthAdjust="spacingAndGlyphs">4.0000×10<tspan dy="-3.6" font-size="5.8">-2</tspan><tspan dy="3.6">​</tspan></text>
<rect x="10.9" y="407.52" width="9.1" height="9.44" fill="rgb(240,80,10)" stroke="rgb(40,40,40)" stroke-width="0.6"/>
<text x="24" y="415.21999999999997" font-family="Liberation Sans, sans-serif" font-size="8.8" fill="rgb(45,45,55)" stroke="rgb(45,45,55)" stroke-width="0.15" textLength="36.5" lengthAdjust="spacingAndGlyphs">4.0000×10<tspan dy="-3.6" font-size="5.8">-2</tspan><tspan dy="3.6">​</tspan></text>
<text x="63.2" y="415.21999999999997" font-family="Liberation Sans, sans-serif" font-size="8.8" fill="rgb(45,45,55)" stroke="rgb(45,45,55)" stroke-width="0.15" textLength="5.8" lengthAdjust="spacingAndGlyphs">to</text>
<text x="72.8" y="415.21999999999997" font-family="Liberation Sans, sans-serif" font-size="8.8" fill="rgb(45,45,55)" stroke="rgb(45,45,55)" stroke-width="0.15" textLength="37.6" lengthAdjust="spacingAndGlyphs">4.2926×10<tspan dy="-3.6" font-size="5.8">-2</tspan><tspan dy="3.6">​</tspan></text>
<text x="268.7" y="17.2" font-family="Liberation Serif, serif" font-size="12" fill="rgb(34,34,250)" stroke="rgb(34,34,250)" stroke-width="0.32" textLength="105.8" lengthAdjust="spacingAndGlyphs">Contour of X-Displacement</text>
<text x="272.5" y="29.5" font-family="Liberation Sans, sans-serif" font-size="7.8" fill="rgb(45,45,55)" stroke="rgb(45,45,55)" stroke-width="0.15" textLength="70.5" lengthAdjust="spacingAndGlyphs">Magfac = 0.000×10<tspan dy="-3" font-size="5">0</tspan></text>
<rect x="268.2" y="32.00" width="10.3" height="10.15" fill="rgb(240,0,0)" stroke="rgb(40,40,40)" stroke-width="0.6"/>
<text x="279.6" y="39.6" font-family="Liberation Sans, sans-serif" font-size="8.8" fill="rgb(45,45,55)" stroke="rgb(45,45,55)" stroke-width="0.15" textLength="43.39999999999998" lengthAdjust="spacingAndGlyphs">−3.8607×10<tspan dy="-3.6" font-size="5.8">-2</tspan><tspan dy="3.6">​</tspan></text>
<text x="325" y="39.6" font-family="Liberation Sans, sans-serif" font-size="8.8" fill="rgb(45,45,55)" stroke="rgb(45,45,55)" stroke-width="0.15" textLength="50.60000000000002" lengthAdjust="spacingAndGlyphs">to−3.5000×10<tspan dy="-3.6" font-size="5.8">-2</tspan><tspan dy="3.6">​</tspan></text>
<rect x="268.2" y="42.15" width="10.3" height="10.15" fill="rgb(250,80,0)" stroke="rgb(40,40,40)" stroke-width="0.6"/>
<text x="279.6" y="49.8" font-family="Liberation Sans, sans-serif" font-size="8.8" fill="rgb(45,45,55)" stroke="rgb(45,45,55)" stroke-width="0.15" textLength="43.39999999999998" lengthAdjust="spacingAndGlyphs">−3.5000×10<tspan dy="-3.6" font-size="5.8">-2</tspan><tspan dy="3.6">​</tspan></text>
<text x="325" y="49.8" font-family="Liberation Sans, sans-serif" font-size="8.8" fill="rgb(45,45,55)" stroke="rgb(45,45,55)" stroke-width="0.15" textLength="50.60000000000002" lengthAdjust="spacingAndGlyphs">to−3.0000×10<tspan dy="-3.6" font-size="5.8">-2</tspan><tspan dy="3.6">​</tspan></text>
<rect x="268.2" y="52.30" width="10.3" height="10.15" fill="rgb(250,160,0)" stroke="rgb(40,40,40)" stroke-width="0.6"/>
<text x="279.6" y="60.0" font-family="Liberation Sans, sans-serif" font-size="8.8" fill="rgb(45,45,55)" stroke="rgb(45,45,55)" stroke-width="0.15" textLength="43.39999999999998" lengthAdjust="spacingAndGlyphs">−3.0000×10<tspan dy="-3.6" font-size="5.8">-2</tspan><tspan dy="3.6">​</tspan></text>
<text x="325" y="60.0" font-family="Liberation Sans, sans-serif" font-size="8.8" fill="rgb(45,45,55)" stroke="rgb(45,45,55)" stroke-width="0.15" textLength="50.60000000000002" lengthAdjust="spacingAndGlyphs">to−2.5000×10<tspan dy="-3.6" font-size="5.8">-2</tspan><tspan dy="3.6">​</tspan></text>
<rect x="268.2" y="62.45" width="10.3" height="10.15" fill="rgb(250,240,0)" stroke="rgb(40,40,40)" stroke-width="0.6"/>
<text x="279.6" y="70.2" font-family="Liberation Sans, sans-serif" font-size="8.8" fill="rgb(45,45,55)" stroke="rgb(45,45,55)" stroke-width="0.15" textLength="43.39999999999998" lengthAdjust="spacingAndGlyphs">−2.5000×10<tspan dy="-3.6" font-size="5.8">-2</tspan><tspan dy="3.6">​</tspan></text>
<text x="325" y="70.2" font-family="Liberation Sans, sans-serif" font-size="8.8" fill="rgb(45,45,55)" stroke="rgb(45,45,55)" stroke-width="0.15" textLength="50.60000000000002" lengthAdjust="spacingAndGlyphs">to−2.0000×10<tspan dy="-3.6" font-size="5.8">-2</tspan><tspan dy="3.6">​</tspan></text>
<rect x="268.2" y="72.60" width="10.3" height="10.15" fill="rgb(140,230,20)" stroke="rgb(40,40,40)" stroke-width="0.6"/>
<text x="279.6" y="80.4" font-family="Liberation Sans, sans-serif" font-size="8.8" fill="rgb(45,45,55)" stroke="rgb(45,45,55)" stroke-width="0.15" textLength="43.39999999999998" lengthAdjust="spacingAndGlyphs">−2.0000×10<tspan dy="-3.6" font-size="5.8">-2</tspan><tspan dy="3.6">​</tspan></text>
<text x="325" y="80.4" font-family="Liberation Sans, sans-serif" font-size="8.8" fill="rgb(45,45,55)" stroke="rgb(45,45,55)" stroke-width="0.15" textLength="50.60000000000002" lengthAdjust="spacingAndGlyphs">to−1.5000×10<tspan dy="-3.6" font-size="5.8">-2</tspan><tspan dy="3.6">​</tspan></text>
<rect x="268.2" y="82.75" width="10.3" height="10.15" fill="rgb(20,230,20)" stroke="rgb(40,40,40)" stroke-width="0.6"/>
<text x="279.6" y="90.6" font-family="Liberation Sans, sans-serif" font-size="8.8" fill="rgb(45,45,55)" stroke="rgb(45,45,55)" stroke-width="0.15" textLength="43.39999999999998" lengthAdjust="spacingAndGlyphs">−1.5000×10<tspan dy="-3.6" font-size="5.8">-2</tspan><tspan dy="3.6">​</tspan></text>
<text x="325" y="90.6" font-family="Liberation Sans, sans-serif" font-size="8.8" fill="rgb(45,45,55)" stroke="rgb(45,45,55)" stroke-width="0.15" textLength="50.60000000000002" lengthAdjust="spacingAndGlyphs">to−1.0000×10<tspan dy="-3.6" font-size="5.8">-2</tspan><tspan dy="3.6">​</tspan></text>
<rect x="268.2" y="92.90" width="10.3" height="10.15" fill="rgb(10,230,10)" stroke="rgb(40,40,40)" stroke-width="0.6"/>
<text x="279.6" y="100.8" font-family="Liberation Sans, sans-serif" font-size="8.8" fill="rgb(45,45,55)" stroke="rgb(45,45,55)" stroke-width="0.15" textLength="43.39999999999998" lengthAdjust="spacingAndGlyphs">−1.0000×10<tspan dy="-3.6" font-size="5.8">-2</tspan><tspan dy="3.6">​</tspan></text>
<text x="325" y="100.8" font-family="Liberation Sans, sans-serif" font-size="8.8" fill="rgb(45,45,55)" stroke="rgb(45,45,55)" stroke-width="0.15" textLength="50.60000000000002" lengthAdjust="spacingAndGlyphs">to−5.0000×10<tspan dy="-3.6" font-size="5.8">-3</tspan><tspan dy="3.6">​</tspan></text>
<rect x="268.2" y="103.05" width="10.3" height="10.15" fill="rgb(10,230,10)" stroke="rgb(40,40,40)" stroke-width="0.6"/>
<text x="279.6" y="111.0" font-family="Liberation Sans, sans-serif" font-size="8.8" fill="rgb(45,45,55)" stroke="rgb(45,45,55)" stroke-width="0.15" textLength="44.89999999999998" lengthAdjust="spacingAndGlyphs">−5.0000×10<tspan dy="-3.6" font-size="5.8">-3</tspan><tspan dy="3.6">​</tspan></text>
<text x="326.5" y="111.0" font-family="Liberation Sans, sans-serif" font-size="8.8" fill="rgb(45,45,55)" stroke="rgb(45,45,55)" stroke-width="0.15" textLength="49.10000000000002" lengthAdjust="spacingAndGlyphs">to&#160;&#160;0.0000×10<tspan dy="-3.6" font-size="5.8">0</tspan><tspan dy="3.6">​</tspan></text>
<rect x="268.2" y="113.20" width="10.3" height="10.15" fill="rgb(20,170,60)" stroke="rgb(40,40,40)" stroke-width="0.6"/>
<text x="283.6" y="121.19999999999999" font-family="Liberation Sans, sans-serif" font-size="8.8" fill="rgb(45,45,55)" stroke="rgb(45,45,55)" stroke-width="0.15" textLength="40.89999999999998" lengthAdjust="spacingAndGlyphs">0.0000×10<tspan dy="-3.6" font-size="5.8">0</tspan><tspan dy="3.6">​</tspan></text>
<text x="326.5" y="121.19999999999999" font-family="Liberation Sans, sans-serif" font-size="8.8" fill="rgb(45,45,55)" stroke="rgb(45,45,55)" stroke-width="0.15" textLength="49.10000000000002" lengthAdjust="spacingAndGlyphs">to&#160;&#160;5.0000×10<tspan dy="-3.6" font-size="5.8">-3</tspan><tspan dy="3.6">​</tspan></text>
<rect x="268.2" y="123.35" width="10.3" height="10.15" fill="rgb(20,130,130)" stroke="rgb(40,40,40)" stroke-width="0.6"/>
<text x="283.6" y="131.4" font-family="Liberation Sans, sans-serif" font-size="8.8" fill="rgb(45,45,55)" stroke="rgb(45,45,55)" stroke-width="0.15" textLength="40.89999999999998" lengthAdjust="spacingAndGlyphs">5.0000×10<tspan dy="-3.6" font-size="5.8">-3</tspan><tspan dy="3.6">​</tspan></text>
<text x="326.5" y="131.4" font-family="Liberation Sans, sans-serif" font-size="8.8" fill="rgb(45,45,55)" stroke="rgb(45,45,55)" stroke-width="0.15" textLength="49.10000000000002" lengthAdjust="spacingAndGlyphs">to&#160;&#160;1.0000×10<tspan dy="-3.6" font-size="5.8">-2</tspan><tspan dy="3.6">​</tspan></text>
<rect x="268.2" y="133.50" width="10.3" height="10.15" fill="rgb(20,70,190)" stroke="rgb(40,40,40)" stroke-width="0.6"/>
<text x="283.6" y="141.6" font-family="Liberation Sans, sans-serif" font-size="8.8" fill="rgb(45,45,55)" stroke="rgb(45,45,55)" stroke-width="0.15" textLength="40.89999999999998" lengthAdjust="spacingAndGlyphs">1.0000×10<tspan dy="-3.6" font-size="5.8">-2</tspan><tspan dy="3.6">​</tspan></text>
<text x="326.5" y="141.6" font-family="Liberation Sans, sans-serif" font-size="8.8" fill="rgb(45,45,55)" stroke="rgb(45,45,55)" stroke-width="0.15" textLength="49.10000000000002" lengthAdjust="spacingAndGlyphs">to&#160;&#160;1.1950×10<tspan dy="-3.6" font-size="5.8">-2</tspan><tspan dy="3.6">​</tspan></text>
<text x="274.2" y="306.8" font-family="Liberation Serif, serif" font-size="12" fill="rgb(34,34,250)" stroke="rgb(34,34,250)" stroke-width="0.32" textLength="103.6" lengthAdjust="spacingAndGlyphs">Contour of X-Displacement</text>
<text x="277.9" y="318.8" font-family="Liberation Sans, sans-serif" font-size="7.6" fill="rgb(45,45,55)" stroke="rgb(45,45,55)" stroke-width="0.15" textLength="29" lengthAdjust="spacingAndGlyphs">Plane: on</text>
<text x="277.9" y="328.2" font-family="Liberation Sans, sans-serif" font-size="7.8" fill="rgb(45,45,55)" stroke="rgb(45,45,55)" stroke-width="0.15" textLength="69.1" lengthAdjust="spacingAndGlyphs">Magfac = 0.000 ×10<tspan dy="-3" font-size="5">0</tspan></text>
<rect x="274.25" y="331.40" width="9.65" height="9.86" fill="rgb(240,0,0)" stroke="rgb(40,40,40)" stroke-width="0.6"/>
<text x="284.4" y="339.1" font-family="Liberation Sans, sans-serif" font-size="8.8" fill="rgb(45,45,55)" stroke="rgb(45,45,55)" stroke-width="0.15" textLength="43.0" lengthAdjust="spacingAndGlyphs">−4.0072×10<tspan dy="-3.6" font-size="5.8">-2</tspan><tspan dy="3.6">​</tspan></text>
<text x="329.4" y="339.1" font-family="Liberation Sans, sans-serif" font-size="8.8" fill="rgb(45,45,55)" stroke="rgb(45,45,55)" stroke-width="0.15" textLength="49.60000000000002" lengthAdjust="spacingAndGlyphs">to−4.0000×10<tspan dy="-3.6" font-size="5.8">-2</tspan><tspan dy="3.6">​</tspan></text>
<rect x="274.25" y="341.26" width="9.65" height="9.86" fill="rgb(250,80,0)" stroke="rgb(40,40,40)" stroke-width="0.6"/>
<text x="284.4" y="348.97" font-family="Liberation Sans, sans-serif" font-size="8.8" fill="rgb(45,45,55)" stroke="rgb(45,45,55)" stroke-width="0.15" textLength="43.0" lengthAdjust="spacingAndGlyphs">−4.0000×10<tspan dy="-3.6" font-size="5.8">-2</tspan><tspan dy="3.6">​</tspan></text>
<text x="329.4" y="348.97" font-family="Liberation Sans, sans-serif" font-size="8.8" fill="rgb(45,45,55)" stroke="rgb(45,45,55)" stroke-width="0.15" textLength="49.60000000000002" lengthAdjust="spacingAndGlyphs">to−3.5000×10<tspan dy="-3.6" font-size="5.8">-2</tspan><tspan dy="3.6">​</tspan></text>
<rect x="274.25" y="351.12" width="9.65" height="9.86" fill="rgb(250,160,0)" stroke="rgb(40,40,40)" stroke-width="0.6"/>
<text x="284.4" y="358.84000000000003" font-family="Liberation Sans, sans-serif" font-size="8.8" fill="rgb(45,45,55)" stroke="rgb(45,45,55)" stroke-width="0.15" textLength="43.0" lengthAdjust="spacingAndGlyphs">−3.5000×10<tspan dy="-3.6" font-size="5.8">-2</tspan><tspan dy="3.6">​</tspan></text>
<text x="329.4" y="358.84000000000003" font-family="Liberation Sans, sans-serif" font-size="8.8" fill="rgb(45,45,55)" stroke="rgb(45,45,55)" stroke-width="0.15" textLength="49.60000000000002" lengthAdjust="spacingAndGlyphs">to−3.0000×10<tspan dy="-3.6" font-size="5.8">-2</tspan><tspan dy="3.6">​</tspan></text>
<rect x="274.25" y="360.98" width="9.65" height="9.86" fill="rgb(250,240,0)" stroke="rgb(40,40,40)" stroke-width="0.6"/>
<text x="284.4" y="368.71000000000004" font-family="Liberation Sans, sans-serif" font-size="8.8" fill="rgb(45,45,55)" stroke="rgb(45,45,55)" stroke-width="0.15" textLength="43.0" lengthAdjust="spacingAndGlyphs">−3.0000×10<tspan dy="-3.6" font-size="5.8">-2</tspan><tspan dy="3.6">​</tspan></text>
<text x="329.4" y="368.71000000000004" font-family="Liberation Sans, sans-serif" font-size="8.8" fill="rgb(45,45,55)" stroke="rgb(45,45,55)" stroke-width="0.15" textLength="49.60000000000002" lengthAdjust="spacingAndGlyphs">to−2.5000×10<tspan dy="-3.6" font-size="5.8">-2</tspan><tspan dy="3.6">​</tspan></text>
<rect x="274.25" y="370.84" width="9.65" height="9.86" fill="rgb(120,236,20)" stroke="rgb(40,40,40)" stroke-width="0.6"/>
<text x="284.4" y="378.58000000000004" font-family="Liberation Sans, sans-serif" font-size="8.8" fill="rgb(45,45,55)" stroke="rgb(45,45,55)" stroke-width="0.15" textLength="43.0" lengthAdjust="spacingAndGlyphs">−2.5000×10<tspan dy="-3.6" font-size="5.8">-2</tspan><tspan dy="3.6">​</tspan></text>
<text x="329.4" y="378.58000000000004" font-family="Liberation Sans, sans-serif" font-size="8.8" fill="rgb(45,45,55)" stroke="rgb(45,45,55)" stroke-width="0.15" textLength="49.60000000000002" lengthAdjust="spacingAndGlyphs">to−2.0000×10<tspan dy="-3.6" font-size="5.8">-2</tspan><tspan dy="3.6">​</tspan></text>
<rect x="274.25" y="380.70" width="9.65" height="9.86" fill="rgb(20,236,20)" stroke="rgb(40,40,40)" stroke-width="0.6"/>
<text x="284.4" y="388.45000000000005" font-family="Liberation Sans, sans-serif" font-size="8.8" fill="rgb(45,45,55)" stroke="rgb(45,45,55)" stroke-width="0.15" textLength="43.0" lengthAdjust="spacingAndGlyphs">−2.0000×10<tspan dy="-3.6" font-size="5.8">-2</tspan><tspan dy="3.6">​</tspan></text>
<text x="329.4" y="388.45000000000005" font-family="Liberation Sans, sans-serif" font-size="8.8" fill="rgb(45,45,55)" stroke="rgb(45,45,55)" stroke-width="0.15" textLength="49.60000000000002" lengthAdjust="spacingAndGlyphs">to−1.5000×10<tspan dy="-3.6" font-size="5.8">-2</tspan><tspan dy="3.6">​</tspan></text>
<rect x="274.25" y="390.56" width="9.65" height="9.86" fill="rgb(10,230,10)" stroke="rgb(40,40,40)" stroke-width="0.6"/>
<text x="284.4" y="398.32000000000005" font-family="Liberation Sans, sans-serif" font-size="8.8" fill="rgb(45,45,55)" stroke="rgb(45,45,55)" stroke-width="0.15" textLength="43.0" lengthAdjust="spacingAndGlyphs">−1.5000×10<tspan dy="-3.6" font-size="5.8">-2</tspan><tspan dy="3.6">​</tspan></text>
<text x="329.4" y="398.32000000000005" font-family="Liberation Sans, sans-serif" font-size="8.8" fill="rgb(45,45,55)" stroke="rgb(45,45,55)" stroke-width="0.15" textLength="49.60000000000002" lengthAdjust="spacingAndGlyphs">to−1.0000×10<tspan dy="-3.6" font-size="5.8">-2</tspan><tspan dy="3.6">​</tspan></text>
<rect x="274.25" y="400.42" width="9.65" height="9.86" fill="rgb(20,170,60)" stroke="rgb(40,40,40)" stroke-width="0.6"/>
<text x="284.4" y="408.19" font-family="Liberation Sans, sans-serif" font-size="8.8" fill="rgb(45,45,55)" stroke="rgb(45,45,55)" stroke-width="0.15" textLength="43.0" lengthAdjust="spacingAndGlyphs">−1.0000×10<tspan dy="-3.6" font-size="5.8">-2</tspan><tspan dy="3.6">​</tspan></text>
<text x="329.4" y="408.19" font-family="Liberation Sans, sans-serif" font-size="8.8" fill="rgb(45,45,55)" stroke="rgb(45,45,55)" stroke-width="0.15" textLength="49.60000000000002" lengthAdjust="spacingAndGlyphs">to−5.0000×10<tspan dy="-3.6" font-size="5.8">-3</tspan><tspan dy="3.6">​</tspan></text>
<rect x="274.25" y="410.28" width="9.65" height="9.86" fill="rgb(20,130,130)" stroke="rgb(40,40,40)" stroke-width="0.6"/>
<text x="284.4" y="418.06" font-family="Liberation Sans, sans-serif" font-size="8.8" fill="rgb(45,45,55)" stroke="rgb(45,45,55)" stroke-width="0.15" textLength="43.0" lengthAdjust="spacingAndGlyphs">−5.0000×10<tspan dy="-3.6" font-size="5.8">-3</tspan><tspan dy="3.6">​</tspan></text>
<text x="329.4" y="418.06" font-family="Liberation Sans, sans-serif" font-size="8.8" fill="rgb(45,45,55)" stroke="rgb(45,45,55)" stroke-width="0.15" textLength="49.60000000000002" lengthAdjust="spacingAndGlyphs">to&#160;&#160;0.0000×10<tspan dy="-3.6" font-size="5.8">0</tspan><tspan dy="3.6">​</tspan></text>
<rect x="274.25" y="420.14" width="9.65" height="9.86" fill="rgb(20,70,190)" stroke="rgb(40,40,40)" stroke-width="0.6"/>
<text x="288.4" y="427.93" font-family="Liberation Sans, sans-serif" font-size="8.8" fill="rgb(45,45,55)" stroke="rgb(45,45,55)" stroke-width="0.15" textLength="39.0" lengthAdjust="spacingAndGlyphs">0.0000×10<tspan dy="-3.6" font-size="5.8">0</tspan><tspan dy="3.6">​</tspan></text>
<text x="329.4" y="427.93" font-family="Liberation Sans, sans-serif" font-size="8.8" fill="rgb(45,45,55)" stroke="rgb(45,45,55)" stroke-width="0.15" textLength="49.60000000000002" lengthAdjust="spacingAndGlyphs">to&#160;&#160;3.8617×10<tspan dy="-3.6" font-size="5.8">-3</tspan><tspan dy="3.6">​</tspan></text>
<text x="130.3" y="39" font-family="Liberation Serif, serif" font-size="14" fill="rgb(80,80,80)">(a)</text>
<text x="413.8" y="39.2" font-family="Liberation Serif, serif" font-size="14" fill="rgb(80,80,80)">(b)</text>
<text x="135.4" y="317.8" font-family="Liberation Serif, serif" font-size="11.5" fill="rgb(80,80,80)">(</text>
<text x="142.2" y="319.8" font-family="Liberation Sans, sans-serif" font-size="12.5" fill="rgb(80,80,80)">c</text>
<text x="150.3" y="317.8" font-family="Liberation Serif, serif" font-size="11.5" fill="rgb(80,80,80)">)</text>
<text x="417.4" y="317.6" font-family="Liberation Serif, serif" font-size="11.5" fill="rgb(80,80,80)">(</text>
<text x="424.5" y="318.8" font-family="Liberation Serif, serif" font-size="13.5" fill="rgb(80,80,80)">d</text>
<text x="432.4" y="317.6" font-family="Liberation Serif, serif" font-size="11.5" fill="rgb(80,80,80)">)</text>
</svg>
</body></html>
